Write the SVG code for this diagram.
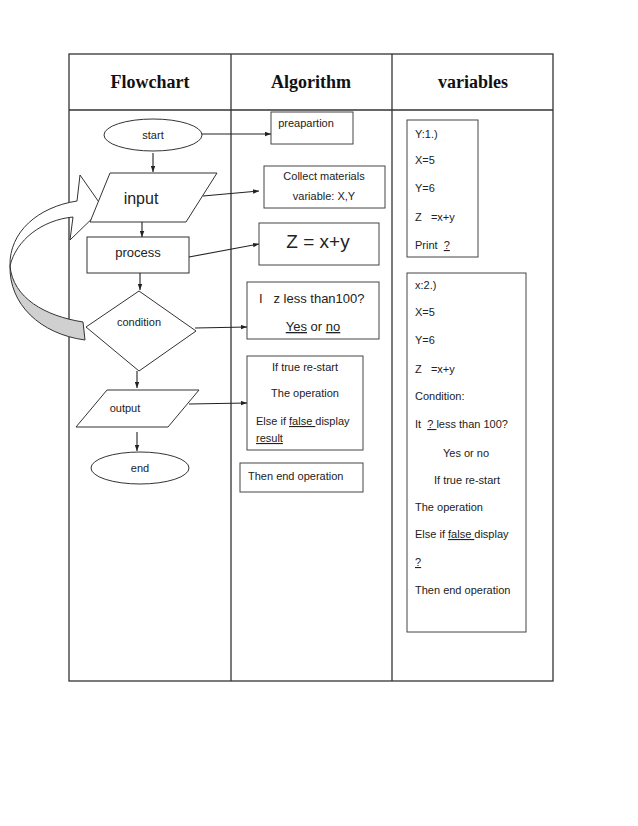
<svg xmlns="http://www.w3.org/2000/svg" width="638" height="826" viewBox="0 0 638 826">
<defs>
<marker id="ah" viewBox="0 0 8 6" refX="8" refY="3" markerWidth="6" markerHeight="5" orient="auto" markerUnits="userSpaceOnUse">
<path d="M0,0 L8,3 L0,6 Z" fill="#222"/>
</marker>
<style>
.tbl{fill:none;stroke:#333;stroke-width:1.3}
.hd{font-family:"Liberation Serif",serif;font-weight:bold;font-size:18px;fill:#111;text-anchor:middle}
.sh{fill:#fff;stroke:#333;stroke-width:1}
.box{fill:#fff;stroke:#444;stroke-width:1}
.t{font-family:"Liberation Sans",Arial,sans-serif;font-size:11px;fill:#222}
.c{text-anchor:middle}
.con{fill:none;stroke:#222;stroke-width:1.1;marker-end:url(#ah)}
.u{text-decoration:underline}
</style>
</defs>
<rect width="638" height="826" fill="#fff"/>
<g id="table">
<rect class="tbl" x="69" y="54" width="484" height="627"/>
<line class="tbl" x1="69" y1="110" x2="553" y2="110"/>
<line class="tbl" x1="231" y1="54" x2="231" y2="681"/>
<line class="tbl" x1="392" y1="54" x2="392" y2="681"/>
<text class="hd" x="150" y="88">Flowchart</text>
<text class="hd" x="311" y="88">Algorithm</text>
<text class="hd" x="473" y="88">variables</text>
</g>
<g id="loop-arrow">
<path d="M10,266 C13,298 45,316 83,322 L85,340 C40,334 9,304 10,266 Z" fill="#d0d0d0" stroke="#333" stroke-width="1"/>
<path d="M77,201 L80,175 L103,208 L70,240 L73,217 C42,220 16,240 10,266 C9,232 38,207 77,201 Z" fill="#fff" stroke="#333" stroke-width="1"/>
</g>
<g id="start">
<ellipse class="sh" cx="153" cy="135" rx="49" ry="16"/>
<text class="t c" x="153" y="139">start</text>
</g>
<g id="input">
<polygon class="sh" points="110,173 217,173 186,222 90,222"/>
<text class="t c" x="141" y="204" style="font-size:16px">input</text>
</g>
<g id="process">
<rect class="sh" x="87" y="237" width="102" height="36"/>
<text class="t c" x="138" y="257" style="font-size:13px">process</text>
</g>
<g id="condition">
<polygon class="sh" points="139,291 196,331 139,371 86,327"/>
<text class="t c" x="139" y="326">condition</text>
</g>
<g id="output">
<polygon class="sh" points="107,390 199,390 168,427 76,427"/>
<text class="t c" x="125" y="412">output</text>
</g>
<g id="end">
<ellipse class="sh" cx="140" cy="468" rx="49" ry="16"/>
<text class="t c" x="140" y="472">end</text>
</g>
<g id="alg-prep">
<rect class="box" x="271" y="112" width="82" height="32"/>
<text class="t c" x="306" y="127">preapartion</text>
</g>
<g id="alg-collect">
<rect class="box" x="264" y="166" width="121" height="42"/>
<text class="t c" x="324" y="180">Collect materials</text>
<text class="t c" x="324" y="200">variable: X,Y</text>
</g>
<g id="alg-z">
<rect class="box" x="259" y="223" width="120" height="42"/>
<text class="t c" x="318" y="248" style="font-size:19px">Z = x+y</text>
</g>
<g id="alg-cond">
<rect class="box" x="247" y="282" width="132" height="57"/>
<text class="t" x="259" y="303" style="font-size:13px" xml:space="preserve">I   z less than100?</text>
<text class="t c" x="313" y="331" style="font-size:13px"><tspan class="u">Yes</tspan> or <tspan class="u">no</tspan></text>
</g>
<g id="alg-if">
<rect class="box" x="247" y="356" width="116" height="94"/>
<text class="t c" x="305" y="371">If true re-start</text>
<text class="t c" x="305" y="397">The operation</text>
<text class="t" x="256" y="425"><tspan>Else if </tspan><tspan class="u">false </tspan><tspan>display</tspan></text>
<text class="t u" x="256" y="442">result</text>
</g>
<g id="alg-end">
<rect class="box" x="240" y="463" width="123" height="29"/>
<text class="t" x="248" y="480">Then end operation</text>
</g>
<g id="var1">
<rect class="box" x="407" y="120" width="71" height="137"/>
<text class="t" x="415" y="138">Y:1.)</text>
<text class="t" x="415" y="164">X=5</text>
<text class="t" x="415" y="192">Y=6</text>
<text class="t" x="415" y="221" xml:space="preserve">Z   =x+y</text>
<text class="t" x="415" y="249" xml:space="preserve">Print  <tspan class="u">?</tspan></text>
</g>
<g id="var2">
<rect class="box" x="407" y="273" width="119" height="359"/>
<text class="t" x="415" y="289">x:2.)</text>
<text class="t" x="415" y="316">X=5</text>
<text class="t" x="415" y="344">Y=6</text>
<text class="t" x="415" y="373" xml:space="preserve">Z   =x+y</text>
<text class="t" x="415" y="400">Condition:</text>
<text class="t" x="415" y="428" xml:space="preserve">It  <tspan class="u">? </tspan>less than 100?</text>
<text class="t c" x="466" y="457">Yes or no</text>
<text class="t c" x="467" y="484">If true re-start</text>
<text class="t" x="415" y="511">The operation</text>
<text class="t" x="415" y="538"><tspan>Else if </tspan><tspan class="u">false </tspan><tspan>display</tspan></text>
<text class="t u" x="415" y="566">?</text>
<text class="t" x="415" y="594">Then end operation</text>
</g>
<g id="connectors">
<line class="con" x1="153" y1="153" x2="153" y2="172"/>
<line class="con" x1="142" y1="222" x2="142" y2="237"/>
<line class="con" x1="140" y1="273" x2="140" y2="290"/>
<line class="con" x1="137" y1="371" x2="137" y2="388"/>
<line class="con" x1="137" y1="432" x2="137" y2="451"/>
<line class="con" x1="202" y1="134" x2="271" y2="134"/>
<line class="con" x1="203" y1="196" x2="259" y2="191"/>
<line class="con" x1="189" y1="257" x2="259" y2="244"/>
<line class="con" x1="195" y1="328" x2="247" y2="327"/>
<line class="con" x1="189" y1="404" x2="247" y2="403"/>
</g>
</svg>
